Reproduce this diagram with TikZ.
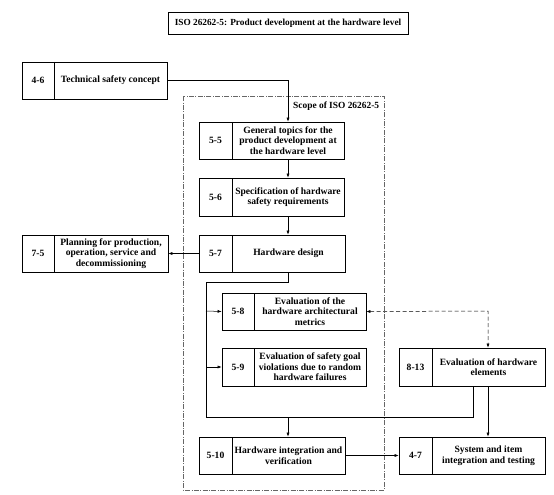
\documentclass[tikz,border=0pt]{standalone}
\usepackage{fontspec}
\setmainfont{Liberation Serif}
\usetikzlibrary{arrows.meta}
\tikzset{
  frame/.style={draw, line width=0.6pt, inner sep=0pt},
  lbl/.style={align=center, font=\fontsize{9.6}{10.6}\selectfont\bfseries, inner sep=0pt},
  num/.style={font=\fontsize{9.6}{10.6}\selectfont\bfseries, inner sep=0pt},
  conn/.style={line width=0.5pt, -{Latex[length=4pt,width=3pt]}},
  plain/.style={line width=0.5pt},
  dconn/.style={line width=0.5pt, dashed, dash pattern=on 4pt off 2.5pt, {Latex[length=4pt,width=3pt]}-{Latex[length=4pt,width=3pt]}},
  scope/.style={line width=0.5pt, dash pattern=on 5pt off 1.5pt on 0.8pt off 1.5pt, gray!80!black},
}
% \hwbox{name}{x1}{y1}{xdiv}{x2}{y2}{number}{text}
\newcommand{\hwbox}[8]{%
  \node[frame, minimum width={(#5-#2)*1pt}, minimum height={(#6-#3)*1pt}] (#1) at ({(#2+#5)/2},{(#3+#6)/2}) {};
  \node[num] (#1n) at ({(#2+#4)/2},{(#3+#6)/2}) {#7};
  \node[lbl] (#1t) at ({(#4+#5)/2},{(#3+#6)/2}) {#8};
  \draw[line width=0.6pt] (#4,#3) -- (#4,#6);
}
\begin{document}
\begin{tikzpicture}[x=1pt, y=-1pt]
\useasboundingbox (0,0) rectangle (554,495);
% title
\node[frame, minimum width=240pt, minimum height=22pt, font=\fontsize{9.3}{10}\selectfont\bfseries] (title) at (288,23) {ISO 26262-5: Product development at the hardware level};
% scope rectangle
\draw[scope] (183,96) rectangle (384,490);
\node[anchor=west, font=\fontsize{9.4}{10}\selectfont\bfseries, inner sep=0pt] (scopelbl) at (293,106) {Scope of ISO 26262-5};
% boxes
\hwbox{b46}{22}{62}{54}{167}{99}{4-6}{Technical safety concept}
\hwbox{b55}{199}{122}{232}{344}{159}{5-5}{General topics for the\\product development at\\the hardware level}
\hwbox{b56}{199}{178}{232}{344}{216}{5-6}{Specification of hardware\\safety requirements}
\hwbox{b57}{199}{235}{232}{345}{272}{5-7}{Hardware design}
\hwbox{b75}{22}{235}{54}{168}{272}{7-5}{Planning for production,\\operation, service and\\decommissioning}
\hwbox{b58}{222}{293}{254}{366}{330}{5-8}{Evaluation of the\\hardware architectural\\metrics}
\hwbox{b59}{222}{348}{254}{366}{386}{5-9}{Evaluation of safety goal\\violations due to random\\hardware failures}
\hwbox{b813}{399}{348}{432}{545}{386}{8-13}{Evaluation of hardware\\elements}
\hwbox{b510}{199}{437}{232}{345}{474}{5-10}{Hardware integration and\\verification}
\hwbox{b47}{399}{437}{432}{545}{474}{4-7}{System and item\\integration and testing}
% junction coordinates
\coordinate (j1) at (288,282);
\coordinate (j2) at (206,282);
\coordinate (j3) at (206,417);
\coordinate (j4) at (288,417);
\coordinate (d1) at (488,311);
% connectors
\draw[conn] (b46.east) -| (b55.north -| 288,0);
\draw[conn] (b55.south -| 288,0) -- (b56.north -| 288,0);
\draw[conn] (b56.south -| 288,0) -- (b57.north -| 288,0);
\draw[conn] (b57.west) -- (b75.east);
\draw[plain] (b57.south -| 288,0) -- (j1) -- (j2) -- (j3) -- (j4);
\draw[conn] (206,311) -- (b58.west);
\draw[conn] (206,367) -- (b59.west);
\draw[plain] (b813.south -| 473,0) |- (j4);
\draw[conn] (j4) -- (b510.north -| 288,0);
\draw[conn] (b813.south -| 488,0) -- (b47.north -| 488,0);
\draw[conn] (b510.east) -- (b47.west);
\draw[dconn] (b58.east) -- (d1) -- (b813.north -| 488,0);
\end{tikzpicture}
\end{document}
